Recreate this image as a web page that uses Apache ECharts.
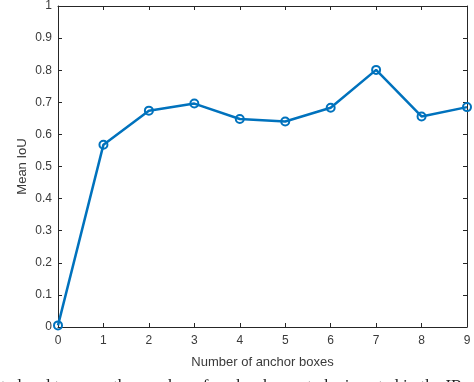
<!DOCTYPE html>
<html>
<head>
<meta charset="utf-8">
<script src="https://cdn.jsdelivr.net/npm/echarts@6/dist/echarts.min.js"></script>
<style>
html,body{margin:0;padding:0;background:#fff;}
#c{width:474px;height:382px;}
</style>
</head>
<body>
<div id="c"></div>
<script>
const categories = [0, 1, 2, 3, 4, 5, 6, 7, 8, 9];
const meanIoU = [0.005, 0.568, 0.674, 0.696, 0.648, 0.640, 0.683, 0.801, 0.656, 0.685];
const xLabel = 'Number of anchor boxes';
const yLabel = 'Mean IoU';
const caption = 'tted and to mean the number of anchor boxes to be inserted in the IR';

const chart = echarts.init(document.getElementById('c'), null, {renderer: 'canvas'});
const axisColor = '#262626';
const textColor = '#3a3a3a';
const font = 'Liberation Sans, Arial, sans-serif';

const baseX = {
  type: 'value', min: 0, max: 9, interval: 1,
  axisLine: {show: true, onZero: false, lineStyle: {color: axisColor, width: 1}},
  axisTick: {show: true, inside: true, length: 4, lineStyle: {color: axisColor}},
  splitLine: {show: false}
};
const baseY = {
  type: 'value', min: 0, max: 1, interval: 0.1,
  axisLine: {show: true, onZero: false, lineStyle: {color: axisColor, width: 1}},
  axisTick: {show: true, inside: true, length: 4, lineStyle: {color: axisColor}},
  splitLine: {show: false}
};

chart.setOption({
  animation: false,
  backgroundColor: '#fff',
  grid: {left: 58, right: 7, top: 4, bottom: 55},
  xAxis: [
    Object.assign({}, baseX, {
      position: 'bottom',
      name: xLabel, nameLocation: 'middle', nameGap: 29, nameMoveOverlap: false,
      nameTextStyle: {color: textColor, fontSize: 13, fontFamily: font},
      axisLabel: {color: textColor, fontSize: 12, fontFamily: font, margin: 8}
    }),
    Object.assign({}, baseX, {position: 'top', axisLabel: {show: false}})
  ],
  yAxis: [
    Object.assign({}, baseY, {
      position: 'left',
      name: yLabel, nameLocation: 'middle', nameGap: 29, nameMoveOverlap: false,
      nameTextStyle: {color: textColor, fontSize: 13, fontFamily: font},
      axisLabel: {color: textColor, fontSize: 12, fontFamily: font, margin: 6,
        formatter: v => String(Math.round(v * 10) / 10)}
    }),
    Object.assign({}, baseY, {position: 'right', axisLabel: {show: false}})
  ],
  graphic: [{
    type: 'text', left: -4, top: 378,
    style: {text: caption, fill: '#222', font: '17px "Liberation Serif", "Times New Roman", serif'}
  }],
  series: [{
    type: 'line',
    xAxisIndex: 0, yAxisIndex: 0,
    data: categories.map((c, i) => [c, meanIoU[i]]),
    symbol: 'circle', symbolSize: 8,
    lineStyle: {color: '#0072BD', width: 2.5},
    itemStyle: {color: 'rgba(0,0,0,0)', borderColor: '#0072BD', borderWidth: 2},
    clip: false
  }]
});
</script>
</body>
</html>
